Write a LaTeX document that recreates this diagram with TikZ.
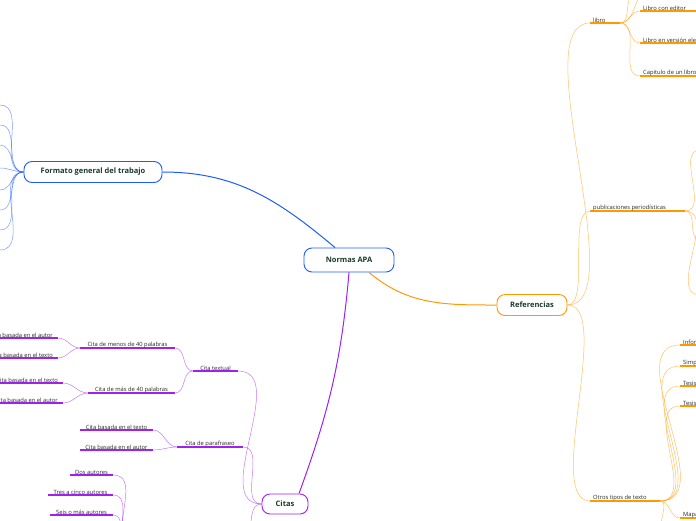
\documentclass[tikz,border=0pt]{standalone}
\usepackage{fontspec}
\setmainfont{Open Sans}
\usetikzlibrary{calc}
\definecolor{cblue}{HTML}{1F5CFF}
\definecolor{corange}{HTML}{FF9900}
\definecolor{cpurple}{HTML}{A020F0}
\definecolor{ctext}{HTML}{1A3A2A}
\tikzset{
 lbl/.style={inner sep=1pt,font=\fontsize{5.8}{6.5}\selectfont,text=black!85},
 ul/.style={line width=1.4pt},
 br/.style={line width=0.5pt,opacity=0.6},
 topic/.style={draw,rounded corners=8pt,line width=0.9pt,fill=white,font=\bfseries\fontsize{7.5}{8.5}\selectfont,text=ctext,inner xsep=10pt,inner ysep=5pt},
}
% name, x1, x2, y, text, color
\newcommand\leaf[6]{%
 \coordinate (#1-l) at (#2,#4); \coordinate (#1-r) at (#3,#4);
 \draw[ul,#6] (#1-l) -- (#1-r);
 \node[lbl,anchor=south] (#1) at ($(#1-l)!0.5!(#1-r)+(0,1)$) {#5};}
\newcommand\leafR[6]{%
 \coordinate (#1-l) at (#2,#4); \coordinate (#1-r) at (#3,#4);
 \draw[ul,#6] (#1-l) -- (#1-r);
 \node[lbl,anchor=south west] (#1) at ($(#1-l)+(2,1)$) {#5};}
\newcommand\leafL[6]{%
 \coordinate (#1-l) at (#2,#4); \coordinate (#1-r) at (#3,#4);
 \draw[ul,#6] (#1-l) -- (#1-r);
 \node[lbl,anchor=south east] (#1) at ($(#1-r)+(-4,1)$) {#5};}
\begin{document}
\begin{tikzpicture}[x=1pt,y=-1pt]
\useasboundingbox (0,0) rectangle (696,520);
\clip (0,0) rectangle (696,520);
% topics
\node[topic,draw=cblue,minimum width=90pt,minimum height=24pt] (apa) at (349,260) {Normas APA};
\node[topic,draw=cblue,minimum width=138pt,minimum height=21pt] (fmt) at (93,172) {Formato general del trabajo};
\node[topic,draw=corange,minimum width=70pt,minimum height=21pt] (ref) at (532,305) {Referencias};
\node[topic,draw=cpurple,minimum width=46pt,minimum height=20pt] (cit) at (285,504) {Citas};
% main connectors
\draw[cblue,line width=1pt] ($(apa.north)+(-14,0)$) to[out=140,in=0] (fmt.east);
\draw[corange,line width=1pt] ($(apa.south)+(20,0)$) to[out=-40,in=180] (ref.west);
\draw[cpurple,line width=1pt] (apa.south) to[out=-95,in=70] ($(cit.north)+(14,0)$);
% formato children
\foreach \y in {105,125,145,168,190,210,230,250}{
 \coordinate (f\y) at (0,\y);
 \draw[cblue,br] (fmt.west) to[out=180,in=0] (f\y);}
% referencias
\leafR{libro}{590}{620}{23}{libro}{corange}
\leafR{pub}{590}{685}{211}{publicaciones periodísticas}{corange}
\leafR{otros}{590}{660}{501}{Otros tipos de texto}{corange}
\foreach \c in {libro-l,pub-l,otros-l}
 \draw[corange,br] (ref.east) to[out=0,in=180,looseness=0.6] (\c);
\leafR{l1}{640}{696}{11}{Libro con editor}{corange}
\leafR{l2}{640}{700}{43}{Libro en versión electrónica}{corange}
\leafR{l3}{640}{700}{76}{Capitulo de un libro}{corange}
\coordinate (lu1) at (635,-5); \coordinate (lu2) at (650,-10);
\foreach \c in {l1-l,l2-l,l3-l,lu1,lu2}
 \draw[corange,br] (libro-r) to[out=0,in=180] (\c);
\coordinate (p1) at (700,150); \coordinate (p2) at (700,240); \coordinate (p3) at (700,295);
\foreach \c in {p1,p2,p3}
 \draw[corange,br] (pub-r) to[out=0,in=180] (\c);
\leafR{o1}{680}{700}{345}{Información}{corange}
\leafR{o2}{680}{700}{366}{Simposio}{corange}
\leafR{o3}{680}{700}{386}{Tesis}{corange}
\leafR{o4}{680}{700}{406}{Tesis}{corange}
\leafR{o5}{680}{700}{518}{Mapa}{corange}
\coordinate (o6) at (665,530);
\foreach \c in {o1-l,o2-l,o3-l,o4-l,o5-l,o6}
 \draw[corange,br] (otros-r) to[out=0,in=180] (\c);
% citas
\leaf{ctx}{193}{238}{371}{Cita textual}{cpurple}
\leaf{cpar}{177}{243}{447}{Cita de parafraseo}{cpurple}
\coordinate (cdown) at (250,530);
\coordinate (cgrp) at (122,535);
\foreach \c in {ctx-r,cpar-r}
 \draw[cpurple,br] (cit.west) to[out=180,in=0] (\c);
\draw[cpurple,br] (cit.west) to[out=180,in=80] (cdown);
\leaf{cm}{80}{175}{348}{Cita de menos de 40 palabras}{cpurple}
\leaf{cM}{88}{175}{393}{Cita de más de 40 palabras}{cpurple}
\foreach \c in {cm-r,cM-r}
 \draw[cpurple,br] (ctx-l) to[out=180,in=0] (\c);
\leafL{cm1}{-5}{58}{338}{Cita basada en el autor}{cpurple}
\leafL{cm2}{-5}{58}{358}{Cita basada en el texto}{cpurple}
\foreach \c in {cm1-r,cm2-r}
 \draw[cpurple,br] (cm-l) to[out=180,in=0] (\c);
\leafL{cM1}{-5}{63}{383}{Cita basada en el texto}{cpurple}
\leafL{cM2}{-5}{63}{403}{Cita basada en el autor}{cpurple}
\foreach \c in {cM1-r,cM2-r}
 \draw[cpurple,br] (cM-l) to[out=180,in=0] (\c);
\leaf{cp1}{80}{153}{430}{Cita basada en el texto}{cpurple}
\leaf{cp2}{80}{153}{450}{Cita basada en el autor}{cpurple}
\foreach \c in {cp1-r,cp2-r}
 \draw[cpurple,br] (cpar-l) to[out=180,in=0] (\c);
\leaf{a1}{70}{113}{475}{Dos autores}{cpurple}
\leaf{a2}{48}{113}{495}{Tres a cinco autores}{cpurple}
\leaf{a3}{50}{113}{515}{Seis o más autores}{cpurple}
\foreach \c in {a1-r,a2-r,a3-r}
 \draw[cpurple,br] (\c) to[out=0,in=95] (cgrp);
\end{tikzpicture}
\end{document}
